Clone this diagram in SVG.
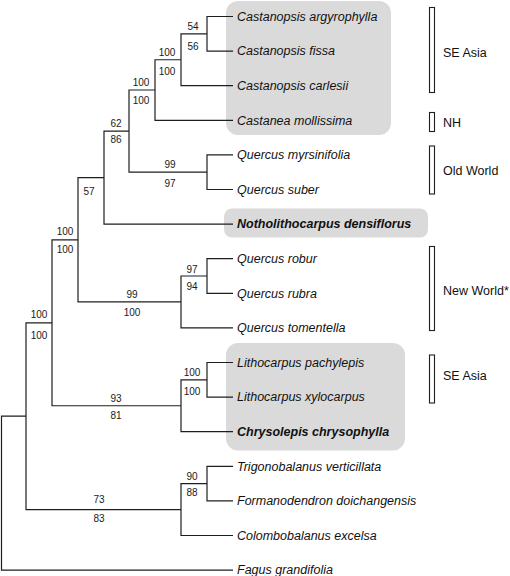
<svg xmlns="http://www.w3.org/2000/svg" width="510" height="576" viewBox="0 0 510 576">
<style>
.bg{fill:#dadada}
.e{fill:none;stroke:#1e1e1e;stroke-width:1.2}
.bar{fill:#fff;stroke:#1e1e1e;stroke-width:1.1}
.tx{font-family:"Liberation Sans",Arial,sans-serif;font-size:12.5px;font-style:italic;fill:#111}
.bd{font-weight:bold}
.s{font-family:"Liberation Sans",Arial,sans-serif;font-size:10px;fill:#1a1a1a;text-anchor:middle}
.r{font-family:"Liberation Sans",Arial,sans-serif;font-size:12.5px;fill:#111}
</style>
<rect width="510" height="576" fill="#fff"/>
<g id="highlights">
<rect class="bg" x="226" y="1" width="165" height="134" rx="12"/>
<rect class="bg" x="224" y="208.5" width="204" height="29" rx="8"/>
<rect class="bg" x="226" y="343" width="179" height="107.5" rx="12"/>
</g>
<g id="connectors">
<path class="e" d="M1.5,493.15V416.2H26M1.5,493.15V570.1H233"/>
<path class="e" d="M26,416.2V322.8H52M26,416.2V509.55H181"/>
<path class="e" d="M52,322.8V239.8H78M52,322.8V405.75H181"/>
<path class="e" d="M78,239.8V177.6H104M78,239.8V301.95H181"/>
<path class="e" d="M104,177.6V131.1H129M104,177.6V224.1H233"/>
<path class="e" d="M129,131.1V90H155M129,131.1V172.2H207"/>
<path class="e" d="M155,90V59.75H181M155,90V120.3H233"/>
<path class="e" d="M181,59.75V33.8H207M181,59.75V85.7H233"/>
<path class="e" d="M207,33.8V16.5H233M207,33.8V51.1H233"/>
<path class="e" d="M207,172.2V154.9H233M207,172.2V189.5H233"/>
<path class="e" d="M181,301.95V276H207M181,301.95V327.9H233"/>
<path class="e" d="M207,276V258.7H233M207,276V293.3H233"/>
<path class="e" d="M181,405.75V379.8H207M181,405.75V431.7H233"/>
<path class="e" d="M207,379.8V362.5H233M207,379.8V397.1H233"/>
<path class="e" d="M181,509.55V483.6H207M181,509.55V535.5H233"/>
<path class="e" d="M207,483.6V466.3H233M207,483.6V500.9H233"/>
</g>
<g id="support">
<text class="s" x="193" y="29.6">54</text><text class="s" x="193" y="50">56</text>
<text class="s" x="167" y="56">100</text><text class="s" x="167" y="75">100</text>
<text class="s" x="141" y="86">100</text><text class="s" x="141" y="103.6">100</text>
<text class="s" x="116" y="127.3">62</text><text class="s" x="116" y="143.3">86</text>
<text class="s" x="170" y="167.5">99</text><text class="s" x="170" y="186.5">97</text>
<text class="s" x="89" y="194.6">57</text>
<text class="s" x="65" y="234.6">100</text><text class="s" x="65" y="253">100</text>
<text class="s" x="192" y="272.6">97</text><text class="s" x="192" y="289.6">94</text>
<text class="s" x="132" y="298">99</text><text class="s" x="132" y="316.3">100</text>
<text class="s" x="39" y="318">100</text><text class="s" x="39" y="339">100</text>
<text class="s" x="192" y="375.6">100</text><text class="s" x="192" y="394.6">100</text>
<text class="s" x="116" y="402.3">93</text><text class="s" x="116" y="419">81</text>
<text class="s" x="192" y="480.3">90</text><text class="s" x="192" y="496.3">88</text>
<text class="s" x="99" y="503">73</text><text class="s" x="99" y="522">83</text>
</g>
<g id="leaf-c-argyrophylla"><text class="tx" x="237" y="20.7">Castanopsis argyrophylla</text></g>
<g id="leaf-c-fissa"><text class="tx" x="237" y="55.3">Castanopsis fissa</text></g>
<g id="leaf-c-carlesii"><text class="tx" x="237" y="89.9">Castanopsis carlesii</text></g>
<g id="leaf-c-mollissima"><text class="tx" x="237" y="124.5">Castanea mollissima</text></g>
<g id="leaf-q-myrsinifolia"><text class="tx" x="237" y="159.1">Quercus myrsinifolia</text></g>
<g id="leaf-q-suber"><text class="tx" x="237" y="193.7">Quercus suber</text></g>
<g id="leaf-notholithocarpus"><text class="tx bd" x="237" y="228.3">Notholithocarpus densiflorus</text></g>
<g id="leaf-q-robur"><text class="tx" x="237" y="262.9">Quercus robur</text></g>
<g id="leaf-q-rubra"><text class="tx" x="237" y="297.5">Quercus rubra</text></g>
<g id="leaf-q-tomentella"><text class="tx" x="237" y="332.1">Quercus tomentella</text></g>
<g id="leaf-l-pachylepis"><text class="tx" x="237" y="366.7">Lithocarpus pachylepis</text></g>
<g id="leaf-l-xylocarpus"><text class="tx" x="237" y="401.3">Lithocarpus xylocarpus</text></g>
<g id="leaf-chrysolepis"><text class="tx bd" x="237" y="435.9">Chrysolepis chrysophylla</text></g>
<g id="leaf-trigonobalanus"><text class="tx" x="237" y="470.5">Trigonobalanus verticillata</text></g>
<g id="leaf-formanodendron"><text class="tx" x="237" y="505.1">Formanodendron doichangensis</text></g>
<g id="leaf-colombobalanus"><text class="tx" x="237" y="539.7">Colombobalanus excelsa</text></g>
<g id="leaf-fagus"><text class="tx" x="237" y="574.3">Fagus grandifolia</text></g>
<g id="region-se-asia-1"><rect class="bar" x="429.5" y="7.5" width="5" height="85"/><text class="r" x="443" y="57.3">SE Asia</text></g>
<g id="region-nh"><rect class="bar" x="429.5" y="112.5" width="5" height="19"/><text class="r" x="443" y="127.3">NH</text></g>
<g id="region-old-world"><rect class="bar" x="429.5" y="146" width="5" height="48"/><text class="r" x="443" y="175">Old World</text></g>
<g id="region-new-world"><rect class="bar" x="429.5" y="246.5" width="5" height="84"/><text class="r" x="443" y="295">New World*</text></g>
<g id="region-se-asia-2"><rect class="bar" x="429.5" y="355" width="5" height="48"/><text class="r" x="443" y="379.5">SE Asia</text></g>
</svg>
